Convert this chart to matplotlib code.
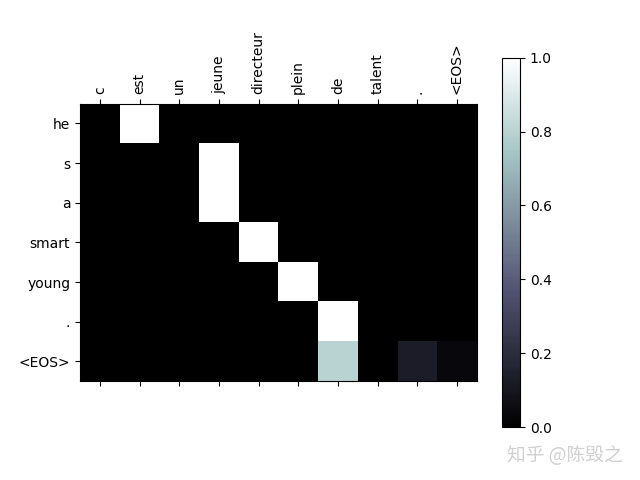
import matplotlib
matplotlib.use("Agg")
import matplotlib.pyplot as plt
import numpy as np

input_words = ["c", "est", "un", "jeune", "directeur", "plein", "de", "talent", ".", "<EOS>"]
output_words = ["he", "s", "a", "smart", "young", ".", "<EOS>"]

row_he = [0, 1, 0, 0, 0, 0, 0, 0, 0, 0]
row_s = [0, 0, 0, 1, 0, 0, 0, 0, 0, 0]
row_a = [0, 0, 0, 1, 0, 0, 0, 0, 0, 0]
row_smart = [0, 0, 0, 0, 1, 0, 0, 0, 0, 0]
row_young = [0, 0, 0, 0, 0, 1, 0, 0, 0, 0]
row_dot = [0, 0, 0, 0, 0, 0, 1, 0, 0, 0]
row_eos = [0, 0, 0, 0, 0, 0, 0.8, 0, 0.13, 0.04]

attn = np.array([row_he, row_s, row_a, row_smart, row_young, row_dot, row_eos])

fig = plt.figure(figsize=(6.4, 4.8), dpi=100)
ax = fig.add_subplot(111)
cax = ax.matshow(attn, cmap="bone", vmin=0, vmax=1)
fig.colorbar(cax)
ax.set_xticks(range(len(input_words)))
ax.set_xticklabels(input_words, rotation=90)
ax.set_yticks(range(len(output_words)))
ax.set_yticklabels(output_words)

fig.text(0.792, 0.04, "知乎 @陈毁之", fontsize=13.5, color="#d0d0d0",
         family=["Noto Sans CJK SC", "DejaVu Sans"])

fig.savefig("out.png", dpi=100)
